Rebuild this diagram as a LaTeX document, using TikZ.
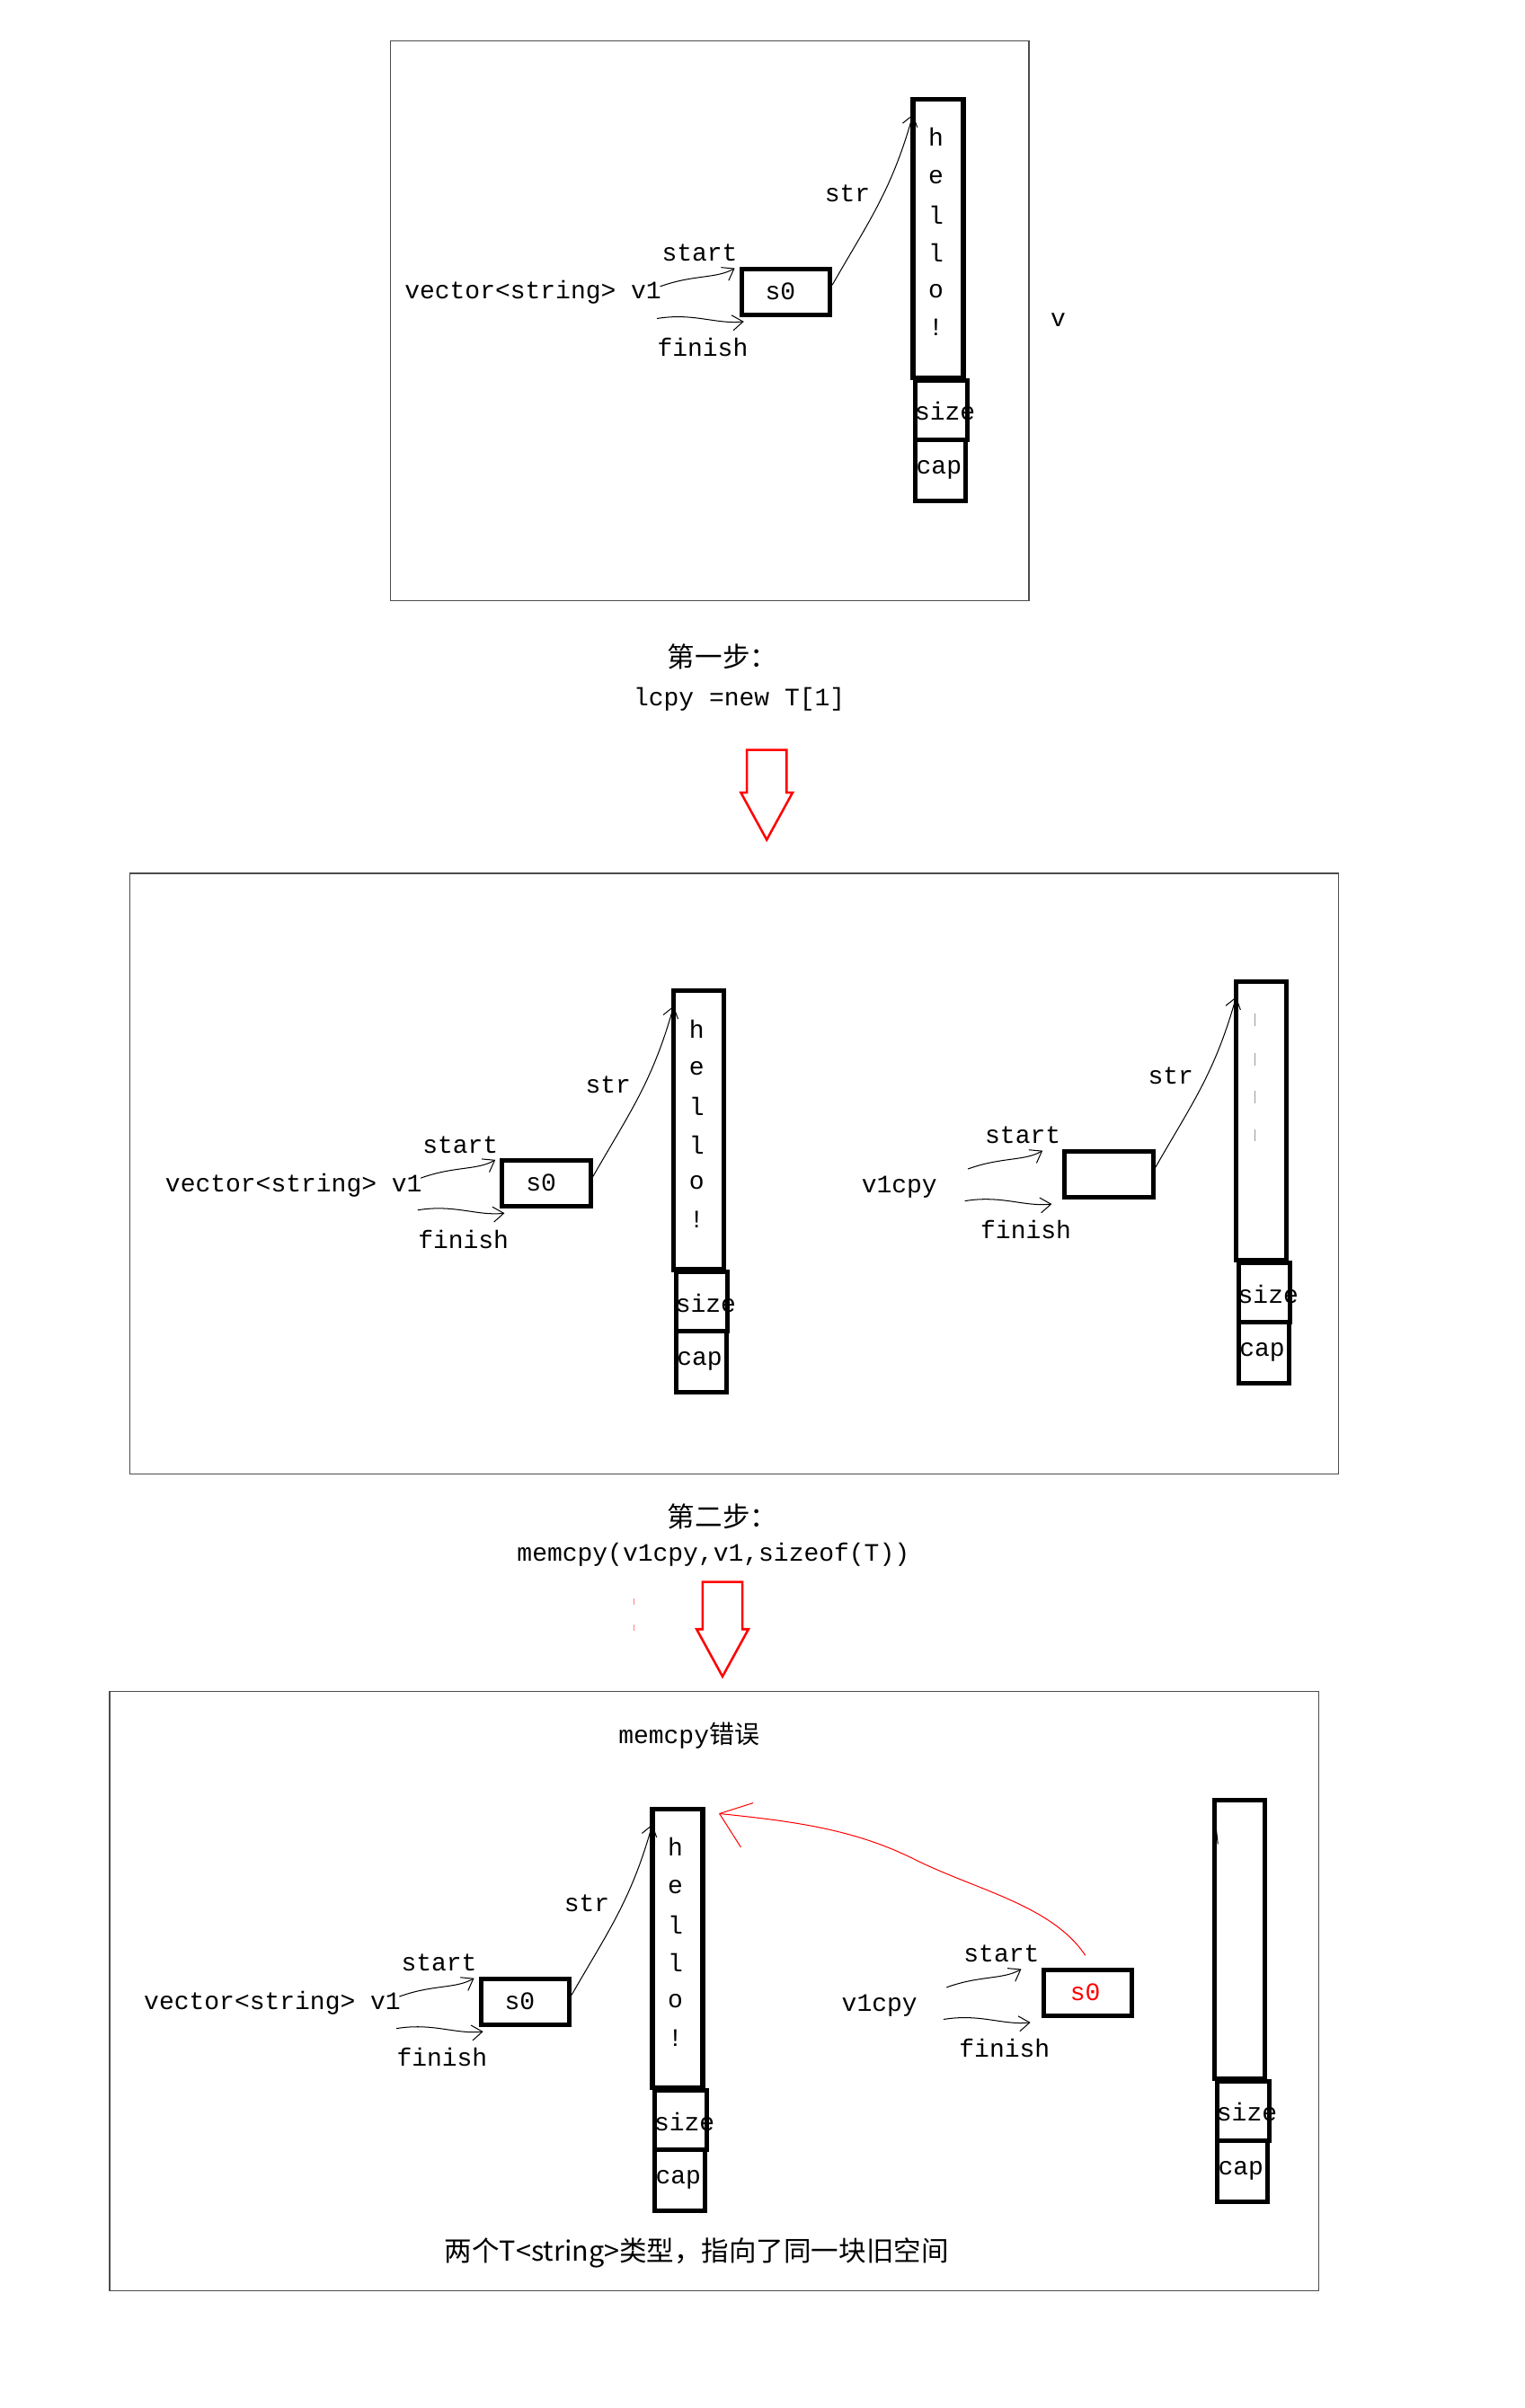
\documentclass[tikz,border=0pt]{standalone}
\usepackage{fontspec}
\setmainfont{Liberation Mono}
\newfontfamily\cjk{Noto Sans CJK SC}
\usetikzlibrary{arrows.meta}
\tikzset{
 thick box/.style={draw=black,line width=3pt},
 frame/.style={draw=black!70,line width=0.8pt},
 lbl/.style={font=\fontsize{16.5}{16.5}\selectfont,inner sep=0pt},
 cjklbl/.style={inner sep=0pt,font=\cjk\fontsize{18}{18}\selectfont},
 ptr/.style={draw=black,line width=0.6pt,-{Straight Barb[length=7pt,width=10pt]}},
 redarrow/.style={draw=red,line width=1.5pt,fill=white},
}
\newcommand\grp[4]{% prefix, x, y, show str arrow (1/0)
 \begin{scope}[shift={(#2,#3)}]
  \node[thick box,minimum width=58pt,minimum height=30pt,anchor=north west,inner sep=0pt] (#1s0) at (0,0) {};
  \draw[thick box] (114,-110) rectangle (147,73);
  \coordinate (#1coltop) at (114,-100);
  \node[thick box,anchor=north west,minimum width=34pt,minimum height=39pt,inner sep=0pt] (#1size) at (114,73) {};
  \node[thick box,anchor=north west,minimum width=33pt,minimum height=40pt,inner sep=0pt] (#1cap) at (114,112) {};
  \node[lbl] at (135,95) {size};
  \node[lbl] at (131,133) {cap};
  \node[lbl] (#1start) at (-26,-9) {start};
  \node[lbl] (#1finish) at (-24,53) {finish};
  \ifnum#4=1
   \node[lbl] (#1str) at (71,-48) {str};
   \coordinate (#1sa) at (61,12);
   \draw[ptr] (#1sa) .. controls (85,-30) and (100,-50) .. (#1coltop);
  \fi
 \end{scope}}
\newcommand\ptrs[3]{% prefix,x,y
 \begin{scope}[shift={(#2,#3)}]
  \coordinate (#1a1) at (-52,13); \coordinate (#1a2) at (-3,1);
  \coordinate (#1b1) at (-54,34); \coordinate (#1b2) at (3,36);
  \draw[ptr] (#1a1) .. controls (-30,5) and (-15,8) .. (#1a2);
  \draw[ptr] (#1b1) .. controls (-30,30) and (-15,38) .. (#1b2);
 \end{scope}}
\newcommand\hello[2]{\begin{scope}[shift={(#1,#2)}]
 \foreach \c/\y in {h/-85,e/-59,l/-34,l/-9,o/16,!/40} \node[lbl] at (129,\y) {\c};
 \end{scope}}
\begin{document}
\begin{tikzpicture}[x=1pt,y=-1pt]
\path[use as bounding box,fill=white] (0,0) rectangle (1000,1580);
% panel 1
\draw[frame] (256,27) rectangle (675,394);
\grp{a}{485}{175}{1}
\ptrs{a}{485}{175}
\hello{485}{175}
\node[lbl] at (512,191) {s0};
\node[lbl,anchor=east] (av) at (434,192) {vector<string> v1};
\node[lbl,anchor=west] at (689,210) {v};
\node[cjklbl] (t1) at (474,431) {第一步：};
\node[lbl] (t1b) at (485,459) {lcpy =new T[1]};
\draw[redarrow] (490,492) -- (516,492) -- (516,520) -- (520,520) -- (503,551) -- (486,520) -- (490,520) -- cycle;
% panel 2
\draw[frame] (85,573) rectangle (878,967);
\grp{b}{328}{760}{1}
\ptrs{b}{328}{760}
\hello{328}{760}
\node[lbl] at (355,776) {s0};
\node[lbl,anchor=east] at (277,778) {vector<string> v1};
\grp{c}{697}{754}{1}
\ptrs{c}{687}{754}
\node[lbl] at (590,779) {v1cpy};
\foreach \y in {-85,-59,-34,-9} \draw[black!40] (823,754+\y-4) -- (823,754+\y+4);
\node[cjklbl] at (474,995) {第二步：};
\node[lbl] at (468,1020) {memcpy(v1cpy,v1,sizeof(T))};
\draw[red!50] (416,1049) -- (416,1053) (416,1066) -- (416,1070);
\draw[redarrow] (461,1038) -- (487,1038) -- (487,1069) -- (491,1069) -- (474,1100) -- (457,1069) -- (461,1069) -- cycle;
% panel 3
\draw[frame] (72,1110) rectangle (865,1503);
\node[lbl] at (452,1139) {memcpy{\cjk 错误}};
\grp{d}{314}{1297}{1}
\ptrs{d}{314}{1297}
\hello{314}{1297}
\node[lbl] at (341,1313) {s0};
\node[lbl,anchor=east] at (263,1314) {vector<string> v1};
\grp{e}{683}{1291}{0}
\ptrs{e}{673}{1291}
\node[lbl,text=red] at (712,1307) {s0};
\node[lbl] at (577,1316) {v1cpy};
\draw[red,line width=0.6pt] (712,1283) .. controls (690,1250) and (640,1240) .. (600,1220) .. controls (560,1200) and (520,1195) .. (472,1190);
\draw[red,line width=0.6pt] (472,1190) -- (486,1212) (472,1190) -- (494,1183);
\draw[black,line width=0.6pt] (797,1192) -- (799,1210);
\node[cjklbl] at (457,1478) {两个T<string>类型，指向了同一块旧空间};
\end{tikzpicture}
\end{document}
